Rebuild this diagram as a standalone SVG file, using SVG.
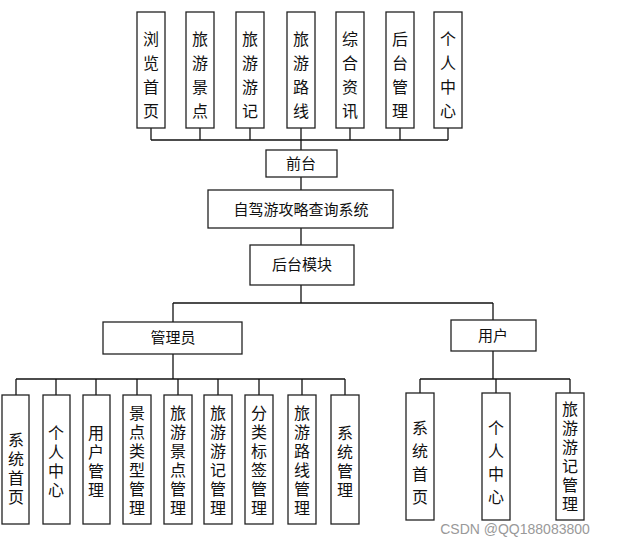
<svg xmlns="http://www.w3.org/2000/svg" width="617" height="547" viewBox="0 0 617 547">
<style>
rect{fill:#fff;stroke:#222;stroke-width:1.3}
text{font-family:"Noto Sans CJK SC","Liberation Sans",sans-serif;font-size:15px;fill:#111;text-anchor:middle}
.v{font-size:16px}
line,polyline{stroke:#111;stroke-width:1.3;fill:none}
</style>
<rect width="617" height="547" style="fill:#fff;stroke:none"/>
<g id="connectors">
<line x1="151" y1="128" x2="151" y2="140"/><line x1="200" y1="128" x2="200" y2="140"/><line x1="250" y1="128" x2="250" y2="140"/><line x1="301" y1="128" x2="301" y2="150"/><line x1="350" y1="128" x2="350" y2="140"/><line x1="400" y1="128" x2="400" y2="140"/><line x1="448" y1="128" x2="448" y2="140"/>
<line x1="151" y1="140" x2="448" y2="140"/>
<line x1="301" y1="177" x2="301" y2="190"/>
<line x1="301" y1="228" x2="301" y2="245"/>
<line x1="301" y1="285" x2="301" y2="303"/>
<line x1="173" y1="303" x2="493" y2="303"/>
<line x1="173" y1="303" x2="173" y2="322"/><line x1="493" y1="303" x2="493" y2="320"/>
<line x1="173" y1="354" x2="173" y2="379"/>
<line x1="16" y1="379" x2="345" y2="379"/>
<line x1="16" y1="379" x2="16" y2="395"/><line x1="56" y1="379" x2="56" y2="395"/><line x1="96" y1="379" x2="96" y2="395"/><line x1="137" y1="379" x2="137" y2="395"/><line x1="178" y1="379" x2="178" y2="395"/><line x1="218" y1="379" x2="218" y2="395"/><line x1="259" y1="379" x2="259" y2="395"/><line x1="302" y1="379" x2="302" y2="395"/><line x1="345" y1="379" x2="345" y2="395"/>
<line x1="493" y1="351" x2="493" y2="379"/>
<line x1="420" y1="379" x2="570" y2="379"/>
<line x1="420" y1="379" x2="420" y2="393"/><line x1="496" y1="379" x2="496" y2="393"/><line x1="570" y1="379" x2="570" y2="393"/>
</g>
<g id="top">
<g id="t1"><rect x="137" y="12" width="28" height="116"/><text class="v" x="151" y="45">浏<tspan x="151" dy="24">览</tspan><tspan x="151" dy="24">首</tspan><tspan x="151" dy="24">页</tspan></text></g>
<g id="t2"><rect x="186" y="12" width="28" height="116"/><text class="v" x="200" y="45">旅<tspan x="200" dy="24">游</tspan><tspan x="200" dy="24">景</tspan><tspan x="200" dy="24">点</tspan></text></g>
<g id="t3"><rect x="236" y="12" width="28" height="116"/><text class="v" x="250" y="45">旅<tspan x="250" dy="24">游</tspan><tspan x="250" dy="24">游</tspan><tspan x="250" dy="24">记</tspan></text></g>
<g id="t4"><rect x="287" y="12" width="28" height="116"/><text class="v" x="301" y="45">旅<tspan x="301" dy="24">游</tspan><tspan x="301" dy="24">路</tspan><tspan x="301" dy="24">线</tspan></text></g>
<g id="t5"><rect x="336" y="12" width="28" height="116"/><text class="v" x="350" y="45">综<tspan x="350" dy="24">合</tspan><tspan x="350" dy="24">资</tspan><tspan x="350" dy="24">讯</tspan></text></g>
<g id="t6"><rect x="386" y="12" width="28" height="116"/><text class="v" x="400" y="45">后<tspan x="400" dy="24">台</tspan><tspan x="400" dy="24">管</tspan><tspan x="400" dy="24">理</tspan></text></g>
<g id="t7"><rect x="434" y="12" width="28" height="116"/><text class="v" x="448" y="45">个<tspan x="448" dy="24">人</tspan><tspan x="448" dy="24">中</tspan><tspan x="448" dy="24">心</tspan></text></g>
</g>
<g id="qiantai"><rect x="266" y="150" width="71" height="27"/><text x="301" y="169">前台</text></g>
<g id="system"><rect x="208" y="190" width="185" height="38"/><text x="301" y="215">自驾游攻略查询系统</text></g>
<g id="houtai"><rect x="250" y="245" width="104" height="40"/><text x="302" y="270">后台模块</text></g>
<g id="admin"><rect x="103" y="322" width="139" height="32"/><text x="173" y="343">管理员</text></g>
<g id="user"><rect x="451" y="320" width="85" height="31"/><text x="493" y="341">用户</text></g>
<g id="adminItems">
<g id="a1"><rect x="2" y="395" width="27" height="129"/><text class="v" x="16" y="446">系<tspan x="16" dy="19">统</tspan><tspan x="16" dy="19">首</tspan><tspan x="16" dy="19">页</tspan></text></g>
<g id="a2"><rect x="43" y="395" width="27" height="129"/><text class="v" x="56" y="439">个<tspan x="56" dy="19">人</tspan><tspan x="56" dy="19">中</tspan><tspan x="56" dy="19">心</tspan></text></g>
<g id="a3"><rect x="83" y="395" width="27" height="129"/><text class="v" x="96" y="439">用<tspan x="96" dy="19">户</tspan><tspan x="96" dy="19">管</tspan><tspan x="96" dy="19">理</tspan></text></g>
<g id="a4"><rect x="123" y="395" width="28" height="129"/><text class="v" x="137" y="419">景<tspan x="137" dy="19">点</tspan><tspan x="137" dy="19">类</tspan><tspan x="137" dy="19">型</tspan><tspan x="137" dy="19">管</tspan><tspan x="137" dy="19">理</tspan></text></g>
<g id="a5"><rect x="164" y="395" width="28" height="129"/><text class="v" x="178" y="419">旅<tspan x="178" dy="19">游</tspan><tspan x="178" dy="19">景</tspan><tspan x="178" dy="19">点</tspan><tspan x="178" dy="19">管</tspan><tspan x="178" dy="19">理</tspan></text></g>
<g id="a6"><rect x="204" y="395" width="28" height="129"/><text class="v" x="218" y="419">旅<tspan x="218" dy="19">游</tspan><tspan x="218" dy="19">游</tspan><tspan x="218" dy="19">记</tspan><tspan x="218" dy="19">管</tspan><tspan x="218" dy="19">理</tspan></text></g>
<g id="a7"><rect x="245" y="395" width="28" height="129"/><text class="v" x="259" y="419">分<tspan x="259" dy="19">类</tspan><tspan x="259" dy="19">标</tspan><tspan x="259" dy="19">签</tspan><tspan x="259" dy="19">管</tspan><tspan x="259" dy="19">理</tspan></text></g>
<g id="a8"><rect x="288" y="395" width="28" height="129"/><text class="v" x="302" y="419">旅<tspan x="302" dy="19">游</tspan><tspan x="302" dy="19">路</tspan><tspan x="302" dy="19">线</tspan><tspan x="302" dy="19">管</tspan><tspan x="302" dy="19">理</tspan></text></g>
<g id="a9"><rect x="331" y="395" width="28" height="129"/><text class="v" x="345" y="439">系<tspan x="345" dy="19">统</tspan><tspan x="345" dy="19">管</tspan><tspan x="345" dy="19">理</tspan></text></g>
</g>
<g id="userItems">
<g id="u1"><rect x="406" y="393" width="28" height="127"/><text class="v" x="420" y="434">系<tspan x="420" dy="23">统</tspan><tspan x="420" dy="23">首</tspan><tspan x="420" dy="23">页</tspan></text></g>
<g id="u2"><rect x="482" y="393" width="28" height="127"/><text class="v" x="496" y="434">个<tspan x="496" dy="23">人</tspan><tspan x="496" dy="23">中</tspan><tspan x="496" dy="23">心</tspan></text></g>
<g id="u3"><rect x="556" y="393" width="28" height="127"/><text class="v" x="570" y="415">旅<tspan x="570" dy="19">游</tspan><tspan x="570" dy="19">游</tspan><tspan x="570" dy="19">记</tspan><tspan x="570" dy="19">管</tspan><tspan x="570" dy="19">理</tspan></text></g>
</g>
<text x="515" y="534" style="font-family:'Liberation Sans',sans-serif;font-size:14px;fill:#999">CSDN @QQ188083800</text>
</svg>
